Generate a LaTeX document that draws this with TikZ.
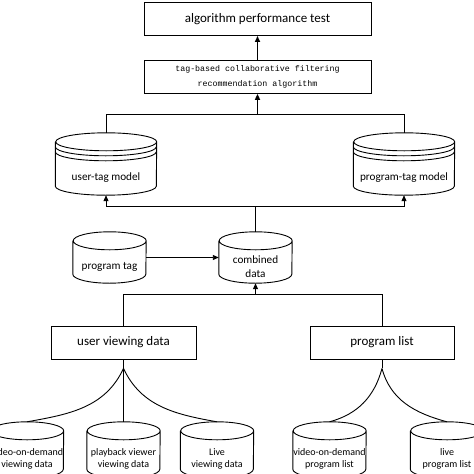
\documentclass[tikz,border=0pt]{standalone}
\usepackage{fontspec}
\setmainfont{Carlito}
\newfontfamily\monofont{Liberation Mono}
\usetikzlibrary{
  arrows.meta,
  calc,
  positioning,
}
\tikzset{
  >={Triangle[width=5pt,length=6pt]},
  line/.style={line width=0.9pt},
  box/.style={draw,line,rectangle,minimum height=33,inner sep=0,font=\fontsize{13}{15}\selectfont},
  db/.style={minimum width=#1pt,inner sep=0,align=center,
    append after command={\pgfextra{\edef\dbnode{\tikzlastnode}
      \draw[line] ([yshift=9]\dbnode.north west) -- ([yshift=9]\dbnode.south west)
        arc[start angle=180,end angle=360,x radius=#1pt/2,y radius=9pt]
        -- ([yshift=9]\dbnode.north east)
        arc[start angle=0,end angle=360,x radius=#1pt/2,y radius=9pt];
      \coordinate (\dbnode-top) at ([yshift=18]\dbnode.north);}}},
  dbmodel/.style={minimum width=#1pt,inner sep=0,align=center,
    append after command={\pgfextra{\edef\dbnode{\tikzlastnode}
      \draw[line] ([yshift=19]\dbnode.north west) -- ([yshift=9]\dbnode.south west)
        arc[start angle=180,end angle=360,x radius=#1pt/2,y radius=9pt]
        -- ([yshift=19]\dbnode.north east)
        arc[start angle=0,end angle=360,x radius=#1pt/2,y radius=9pt];
      \draw[line] ([yshift=14]\dbnode.north west) arc[start angle=180,end angle=360,x radius=#1pt/2,y radius=9pt];
      \draw[line] ([yshift=9]\dbnode.north west) arc[start angle=180,end angle=360,x radius=#1pt/2,y radius=9pt];
      \coordinate (\dbnode-top) at ([yshift=28]\dbnode.north);}}},
  topfont/.style={font=\fontsize{11.2}{14}\selectfont},
  lowfont/.style={font=\fontsize{10}{12}\selectfont},
}

\begin{document}
\begin{tikzpicture}[x=1pt,y=1pt]
        \useasboundingbox (0,0) rectangle (474,-474);

        % algorithm part
        \node[box,minimum width=227] (apt) at (257.5,-19) {algorithm performance test};
        \node[box,minimum width=227,align=center,font=\monofont\fontsize{8.3}{15}\selectfont] (cfr) [below=24pt of apt] {tag-based collaborative filtering\\recommendation algorithm};

        % models
        \node[dbmodel=101,minimum height=34,topfont] (ut) at (106,-178) {user-tag model};
        \node[dbmodel=101,minimum height=34,topfont] (pt) at (404,-178) {program-tag model};

        % data
        \node[db=73,minimum height=33,topfont] (ptag) at (109.5,-266.5) {program tag};
        \node[db=73,minimum height=33,topfont] (comb) at (255.5,-266.5) {combined\\data};

        \node[box,minimum width=145] (uvd) at (123.5,-342.5) {user viewing data};
        \node[box,minimum width=144] (pl) at (382,-342.5) {program list};

        % sources
        \node[db=73,minimum height=38,lowfont] (vodv) at (27,-459) {video-on-demand\\viewing data};
        \node[db=73,minimum height=38,lowfont] (pbv) at (123.5,-459) {playback viewer\\viewing data};
        \node[db=73,minimum height=38,lowfont] (lvd) at (217,-459) {Live\\viewing data};
        \node[db=73,minimum height=38,lowfont] (vodp) at (329.5,-459) {video-on-demand\\program list};
        \node[db=73,minimum height=38,lowfont] (lpl) at (447,-459) {live\\program list};

        \draw[line,line width=1.6pt,->] (cfr) -- (apt);
        \draw[line] (ut-top) |- ([yshift=-21]cfr.south) -| (pt-top);
        \draw[line,line width=1.6pt,->] ([yshift=-21]cfr.south) -- (cfr.south);
        \draw[line,->] (comb-top) -- ++(0,25) -| (ut.south);
        \draw[line,->] (comb-top) -- ++(0,25) -| (pt.south);
        \draw[line,->] ([yshift=9]ptag.east) -- ([yshift=9]comb.west);
        \draw[line] (uvd.north) |- ([yshift=-11]comb.south) -| (pl.north);
        \draw[line,->] ([yshift=-11]comb.south) -- (comb.south);

        \draw[line] (uvd.south) -- ++(0,-9) coordinate (uvb);
        \draw[line] (uvb) to[out=-115,in=10] (vodv-top);
        \draw[line] (uvb) -- (pbv-top);
        \draw[line] (uvb) to[out=-65,in=170] (lvd-top);
        \draw[line] (pl.south) -- ++(0,-9) coordinate (plb);
        \draw[line] (plb) to[out=-105,in=15] (vodp-top);
        \draw[line] (plb) to[out=-75,in=165] (lpl-top);
    \end{tikzpicture}
\end{document}
